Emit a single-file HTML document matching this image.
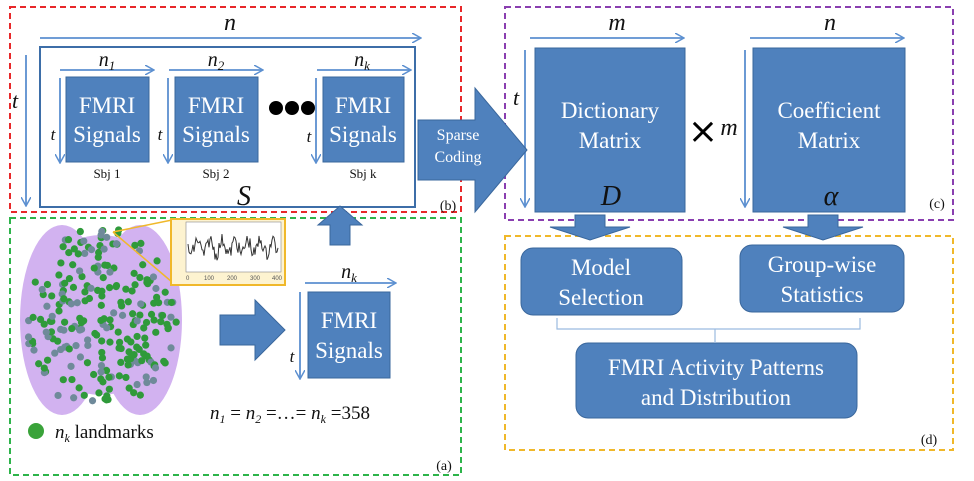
<!DOCTYPE html>
<html><head><meta charset="utf-8"><style>
body{margin:0;background:#fff}
svg{display:block;font-family:"Liberation Serif",serif}
.w{fill:#fff}
</style></head><body>
<svg id="s" width="974" height="481" viewBox="0 0 974 481" xmlns="http://www.w3.org/2000/svg">
<defs>
<marker id="ah" markerWidth="10" markerHeight="10" refX="8" refY="5" orient="auto" markerUnits="userSpaceOnUse"><path d="M0,0 L9,5 L0,10" fill="none" stroke="#5b8fd0" stroke-width="1.5"/></marker>
</defs>
<g fill="none" stroke-width="2" stroke-dasharray="6,4">
<rect x="10" y="7" width="451" height="205" stroke="#e8282a"/>
<rect x="10" y="218" width="451" height="257" stroke="#2db44a"/>
<rect x="505" y="7" width="448" height="213" stroke="#8a3fb0"/>
<rect x="505" y="236" width="448" height="214" stroke="#f0b82a"/>
</g>
<g stroke="#5b8fd0" stroke-width="1.8" fill="none" marker-end="url(#ah)">
<line x1="40" y1="38" x2="420" y2="38"/>
<line x1="26" y1="55" x2="26" y2="205"/>
<line x1="60" y1="70" x2="153" y2="70"/>
<line x1="169" y1="70" x2="262" y2="70"/>
<line x1="317" y1="70" x2="410" y2="70"/>
<line x1="60" y1="78" x2="60" y2="162"/>
<line x1="168" y1="78" x2="168" y2="162"/>
<line x1="316" y1="78" x2="316" y2="162"/>
<line x1="530" y1="38" x2="683" y2="38"/>
<line x1="525" y1="50" x2="525" y2="206"/>
<line x1="750" y1="38" x2="903" y2="38"/>
<line x1="745" y1="50" x2="745" y2="206"/>
<line x1="305" y1="283" x2="395" y2="283"/>
<line x1="300" y1="292" x2="300" y2="378"/>
</g>
<rect x="40" y="47" width="375" height="160" fill="none" stroke="#3d6ea8" stroke-width="2"/>
<g fill="#4f81bd" stroke="#3a679c" stroke-width="1">
<rect x="66" y="77" width="83" height="85"/>
<rect x="175" y="77" width="83" height="85"/>
<rect x="323" y="77" width="81" height="85"/>
<rect x="535" y="48" width="150" height="164"/>
<rect x="753" y="48" width="152" height="164"/>
<rect x="308" y="292" width="82" height="86"/>
<rect x="521" y="248" width="161" height="67" rx="12"/>
<rect x="740" y="245" width="164" height="67" rx="12"/>
<rect x="576" y="343" width="281" height="75" rx="12"/>
<path d="M418,120 L475,120 L475,88 L527,150 L475,212 L475,180 L418,180 Z"/>
<path d="M575,215 L605,215 L605,227 L630,227 L590,240 L550,227 L575,227 Z"/>
<path d="M808,215 L838,215 L838,227 L863,227 L823,240 L783,227 L808,227 Z"/>
<path d="M330,245 L350,245 L350,225 L362,225 L340,206 L318,225 L330,225 Z"/>
<path d="M220,315 L255,315 L255,300 L285,330 L255,360 L255,345 L220,345 Z"/>
</g>
<path d="M557,318 L557,329 L860,329 L860,318 M715,329 L715,343" fill="none" stroke="#9bbbe0" stroke-width="1.2"/>
<g class="w" font-size="23" text-anchor="middle">
<text x="107" y="113">FMRI</text><text x="107" y="142">Signals</text>
<text x="216" y="113">FMRI</text><text x="216" y="142">Signals</text>
<text x="363" y="113">FMRI</text><text x="363" y="142">Signals</text>
<text x="349" y="328">FMRI</text><text x="349" y="358">Signals</text>
<text x="610" y="118">Dictionary</text><text x="610" y="148">Matrix</text>
<text x="829" y="118">Coefficient</text><text x="829" y="148">Matrix</text>
<text x="601" y="275">Model</text><text x="601" y="305">Selection</text>
<text x="822" y="272">Group-wise</text><text x="822" y="302">Statistics</text>
<text x="716" y="375">FMRI Activity Patterns</text><text x="716" y="405">and Distribution</text>
<text x="458" y="140" font-size="16">Sparse</text><text x="458" y="162" font-size="16">Coding</text>
</g>
<g font-size="13" text-anchor="middle" fill="#111">
<text x="107" y="178">Sbj 1</text><text x="216" y="178">Sbj 2</text><text x="363" y="178">Sbj k</text>
</g>
<g font-style="italic" fill="#111" text-anchor="middle">
<text x="230" y="30" font-size="24">n</text>
<text x="15" y="108" font-size="22">t</text>
<text x="107" y="66" font-size="20">n<tspan font-size="13" dy="4">1</tspan></text>
<text x="216" y="66" font-size="20">n<tspan font-size="13" dy="4">2</tspan></text>
<text x="362" y="66" font-size="20">n<tspan font-size="13" dy="4">k</tspan></text>
<text x="53" y="140" font-size="17">t</text><text x="160" y="140" font-size="17">t</text><text x="309" y="142" font-size="17">t</text>
<text x="244" y="205" font-size="28">S</text>
<text x="617" y="30" font-size="24">m</text>
<text x="830" y="30" font-size="24">n</text>
<text x="516" y="105" font-size="22">t</text>
<text x="611" y="205" font-size="28">D</text>
<text x="831" y="205" font-size="28">α</text>
<text x="729" y="135" font-size="24">m</text>
<text x="349" y="278" font-size="20">n<tspan font-size="13" dy="4">k</tspan></text>
<text x="292" y="362" font-size="17">t</text>
</g>
<text x="703" y="143" font-size="36" text-anchor="middle" font-family="DejaVu Sans">×</text>
<g fill="#111" font-size="14" text-anchor="middle">
<text x="448" y="210">(b)</text><text x="937" y="208">(c)</text><text x="929" y="444">(d)</text><text x="444" y="470">(a)</text>
</g>
<circle cx="276" cy="108" r="7" fill="#000"/><circle cx="292" cy="108" r="7" fill="#000"/><circle cx="308" cy="108" r="7" fill="#000"/>
<text x="210" y="419" font-size="19" fill="#111"><tspan font-style="italic">n</tspan><tspan font-size="12" dy="4" font-style="italic">1</tspan><tspan dy="-4"> = </tspan><tspan font-style="italic">n</tspan><tspan font-size="12" dy="4" font-style="italic">2</tspan><tspan dy="-4"> =…= </tspan><tspan font-style="italic">n</tspan><tspan font-size="12" dy="4" font-style="italic">k</tspan><tspan dy="-4"> =358</tspan></text>
<circle cx="36" cy="431" r="8" fill="#3aa33a"/>
<text x="55" y="438" font-size="19" fill="#111"><tspan font-style="italic">n</tspan><tspan font-size="12" dy="4" font-style="italic">k</tspan><tspan dy="-4"> landmarks</tspan></text>
<g id="brain">
<ellipse cx="62" cy="320" rx="42" ry="95" fill="#d2b2f0"/>
<ellipse cx="140" cy="320" rx="42" ry="95" fill="#d2b2f0"/>
<ellipse cx="101" cy="315" rx="70" ry="80" fill="#d2b2f0"/>
</g>
<path d="M113,232 L172,220 M113,232 L172,282" stroke="#f0b82a" stroke-width="1.5"/>
<rect x="171" y="219" width="114" height="66" fill="#fdf3d0" stroke="#f0b82a" stroke-width="2"/>
<rect x="186" y="222" width="95" height="50" fill="#fff" stroke="#888" stroke-width="0.6"/>
<polyline id="sig" fill="none" stroke="#333" stroke-width="1"/>
<g font-size="6" fill="#555" font-family="Liberation Sans"><text x="186" y="280">0</text><text x="204" y="280">100</text><text x="227" y="280">200</text><text x="250" y="280">300</text><text x="272" y="280">400</text></g>
</svg>
<script>
var s=document.getElementById('s'),b=document.getElementById('brain'),ns='http://www.w3.org/2000/svg';
var seed=7;function r(){seed=(seed*9301+49297)%233280;return seed/233280;}
for(var i=0;i<240;i++){var a=r()*6.283,d=Math.sqrt(r());var x=101+Math.cos(a)*d*76,y=320+Math.sin(a)*d*93;
var c=document.createElementNS(ns,'circle');c.setAttribute('cx',x);c.setAttribute('cy',y);c.setAttribute('r',3.6);c.setAttribute('fill',r()<0.65?'#2f9a3a':'#6f8a9a');b.appendChild(c);}
var p='';for(var j=0;j<=90;j++){p+=(188+j)+','+(247+Math.sin(j*0.5)*7+(r()-0.5)*14)+' ';}
document.getElementById('sig').setAttribute('points',p);
</script>
</body></html>
